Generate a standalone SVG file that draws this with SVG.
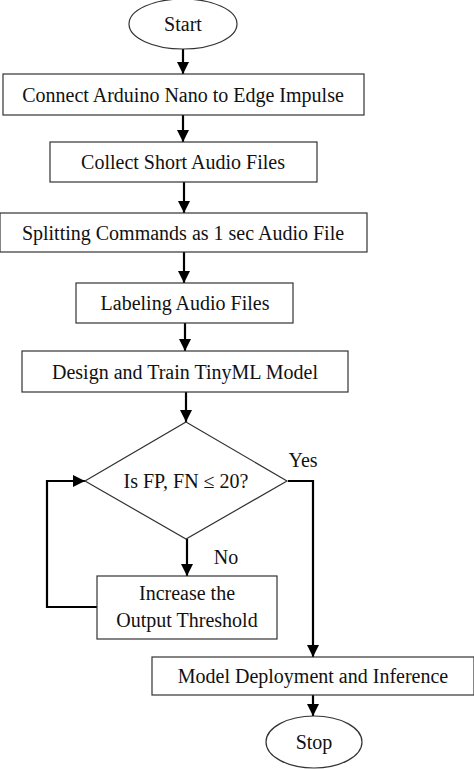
<svg xmlns="http://www.w3.org/2000/svg" width="474" height="769" viewBox="0 0 474 769">
<defs>
<style>
.n{fill:#fff;stroke:#333;stroke-width:1.2}
.t{font-family:"Liberation Serif","Times New Roman",serif;font-size:20px;fill:#111;text-anchor:middle}
.c{fill:none;stroke:#000;stroke-width:2.2}
</style>
<marker id="ah" viewBox="0 0 12 12" refX="12" refY="6" markerWidth="12" markerHeight="12" markerUnits="userSpaceOnUse" orient="auto">
<path d="M0,0 L12,6 L0,12 z" fill="#000"/>
</marker>
</defs>
<rect width="474" height="769" fill="#fff"/>
<g id="connectors">
<line class="c" x1="183" y1="49" x2="183" y2="74" marker-end="url(#ah)"/>
<line class="c" x1="183" y1="115" x2="183" y2="142" marker-end="url(#ah)"/>
<line class="c" x1="184" y1="182" x2="184" y2="213" marker-end="url(#ah)"/>
<line class="c" x1="184" y1="252" x2="184" y2="283" marker-end="url(#ah)"/>
<line class="c" x1="185" y1="323" x2="185" y2="351" marker-end="url(#ah)"/>
<line class="c" x1="186" y1="392" x2="186" y2="422" marker-end="url(#ah)"/>
<line class="c" x1="187" y1="539" x2="187" y2="576" marker-end="url(#ah)"/>
<polyline class="c" points="97,607 47,607 47,481 85,481" marker-end="url(#ah)"/>
<polyline class="c" points="288,481 313,481 313,657" marker-end="url(#ah)"/>
<line class="c" x1="313" y1="695" x2="313" y2="716" marker-end="url(#ah)"/>
</g>
<g id="start">
<ellipse class="n" cx="183" cy="24" rx="54" ry="25"/>
<text class="t" x="183" y="31">Start</text>
</g>
<g id="connect">
<rect class="n" x="3" y="74" width="361" height="41"/>
<text class="t" x="183" y="102">Connect Arduino Nano to Edge Impulse</text>
</g>
<g id="collect">
<rect class="n" x="50" y="142" width="267" height="40"/>
<text class="t" x="183" y="169">Collect Short Audio Files</text>
</g>
<g id="split">
<rect class="n" x="0" y="213" width="367" height="39"/>
<text class="t" x="183" y="240">Splitting Commands as 1 sec Audio File</text>
</g>
<g id="label">
<rect class="n" x="76" y="283" width="217" height="40"/>
<text class="t" x="185" y="310">Labeling Audio Files</text>
</g>
<g id="design">
<rect class="n" x="22" y="351" width="326" height="41"/>
<text class="t" x="185" y="379">Design and Train TinyML Model</text>
</g>
<g id="decision">
<polygon class="n" points="186,422 287,481 186,539 85,481"/>
<text class="t" x="186" y="488">Is FP, FN ≤ 20?</text>
</g>
<g id="increase">
<rect class="n" x="97" y="576" width="180" height="63"/>
<text class="t" x="187" y="600">Increase the</text>
<text class="t" x="187" y="627">Output Threshold</text>
</g>
<g id="deploy">
<rect class="n" x="152" y="657" width="322" height="38"/>
<text class="t" x="313" y="683">Model Deployment and Inference</text>
</g>
<g id="stop">
<ellipse class="n" cx="314" cy="742" rx="48" ry="26"/>
<text class="t" x="314" y="749">Stop</text>
</g>
<g id="labels">
<text class="t" x="303" y="467">Yes</text>
<text class="t" x="226" y="564">No</text>
</g>
</svg>
